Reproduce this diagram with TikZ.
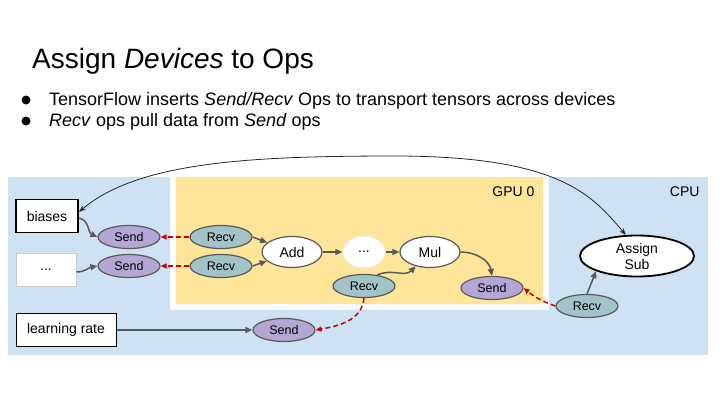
\documentclass[tikz,border=0pt]{standalone}
\usepackage{fontspec}
\setmainfont{Liberation Sans}
\usetikzlibrary{shapes.geometric,arrows.meta}
\definecolor{cpublue}{HTML}{CFE2F3}
\definecolor{gpuyellow}{HTML}{FFE599}
\definecolor{sendpurple}{HTML}{B4A7D6}
\definecolor{recvteal}{HTML}{A2C4C9}
\definecolor{edgegray}{HTML}{595959}
\definecolor{pullred}{HTML}{CC0000}

\begin{document}
\begin{tikzpicture}[x=1pt,y=-1pt,
  op/.style = {draw=edgegray, ellipse, line width=1.2pt, minimum width=62pt, minimum height=23pt, inner sep=0pt, font=\fontsize{12.5}{14}\selectfont},
  send/.style = {op, fill=sendpurple},
  recv/.style = {op, fill=recvteal},
  calc/.style = {draw=edgegray, ellipse, fill=white, line width=1.2pt, minimum width=60pt, minimum height=31pt, inner sep=0pt, font=\fontsize{14}{16}\selectfont},
  var/.style = {draw, rectangle, fill=white, minimum height=33pt, font=\fontsize{14}{16}\selectfont},
  flow/.style = {draw=edgegray, line width=1.5pt, -{Triangle[length=7pt,width=6pt]}},
  pull/.style = {draw=pullred, line width=1.5pt, dash pattern=on 5pt off 3pt, -{Triangle[length=6pt,width=5pt]}}]
\useasboundingbox (0,0) rectangle (720,405);
% device areas
\fill[cpublue] (8,177) rectangle (708,355);
\fill[white] (170,177) rectangle (549,310);
\fill[gpuyellow] (176,177) rectangle (543,304);
\node[anchor=east, font=\fontsize{14}{16}\selectfont] (gpu) at (538,192) {GPU 0};
\node[anchor=east, font=\fontsize{14}{16}\selectfont] (cpu) at (703,192) {CPU};
% title and bullets
\node[anchor=base west, inner sep=0pt, font=\fontsize{28}{34}\selectfont] (title) at (32,68) {Assign \textit{Devices} to Ops};
\node[anchor=base west, inner sep=0pt, font=\fontsize{18}{21}\selectfont] (b1) at (49,105) {TensorFlow inserts \textit{Send/Recv} Ops to transport tensors across devices};
\node[anchor=base west, inner sep=0pt, font=\fontsize{18}{21}\selectfont] (b2) at (49,126) {\textit{Recv} ops pull data from \textit{Send} ops};
\fill (26,100) circle (4.5pt);
\fill (26,121) circle (4.5pt);
% nodes
\node[var, line width=1.8pt, minimum width=62pt] (biases) at (47,216) {biases};
\node[var, draw=black!20, line width=1pt, minimum width=60pt] (more) at (46,270) {...};
\node[var, line width=1pt, minimum width=100pt] (lr) at (66,330) {learning rate};
\node[send] (send1) at (129,237) {Send};
\node[send] (send2) at (129,266) {Send};
\node[recv] (recv1) at (221,237) {Recv};
\node[recv] (recv2) at (221,266) {Recv};
\node[calc] (add) at (292,252) {Add};
\node[calc, draw=black!5, minimum width=42pt] (dots) at (364,252) {...};
\node[calc] (mul) at (430,252) {Mul};
\node[recv] (recv3) at (364,286) {Recv};
\node[send] (send3) at (492,288) {Send};
\node[recv] (recv4) at (587,306) {Recv};
\node[send] (send4) at (284,330) {Send};
\node[calc, draw=black, line width=1.8pt, minimum width=114pt, minimum height=41pt, align=center, font=\fontsize{14}{16}\selectfont] (assign) at (637,256) {Assign\\Sub};
% edges
\draw[black!85, line width=0.8pt, {Stealth[length=7pt,width=5pt]}-{Stealth[length=7pt,width=5pt]}] ([yshift=4pt]biases.east) .. controls (140,160) and (260,156) .. (400,156) .. controls (560,157) and (592,195) .. (assign.118);
\draw[flow] ([yshift=-2pt]biases.east) to[out=-10,in=155] (send1.west);
\draw[flow] ([yshift=-2pt]more.east) to[out=0,in=190] (send2.west);
\draw[flow] (lr) -- (send4);
\draw[pull] (recv1) -- (send1);
\draw[pull] (recv2) -- (send2);
\draw[flow] (recv1.east) -- (add);
\draw[flow] (recv2.east) -- (add);
\draw[flow] (add) -- (dots);
\draw[flow] (dots) -- (mul);
\draw[flow] (recv3.40) to[out=25,in=225] (mul.225);
\draw[flow] (mul.east) to[out=0,in=100] (send3.north);
\draw[pull] (recv3.south) to[out=-95,in=10] (send4.east);
\draw[pull] (recv4.west) to[bend left=10] (send3.east);
\draw[flow] (recv4.north) -- (assign.south west);
\end{tikzpicture}
\end{document}
